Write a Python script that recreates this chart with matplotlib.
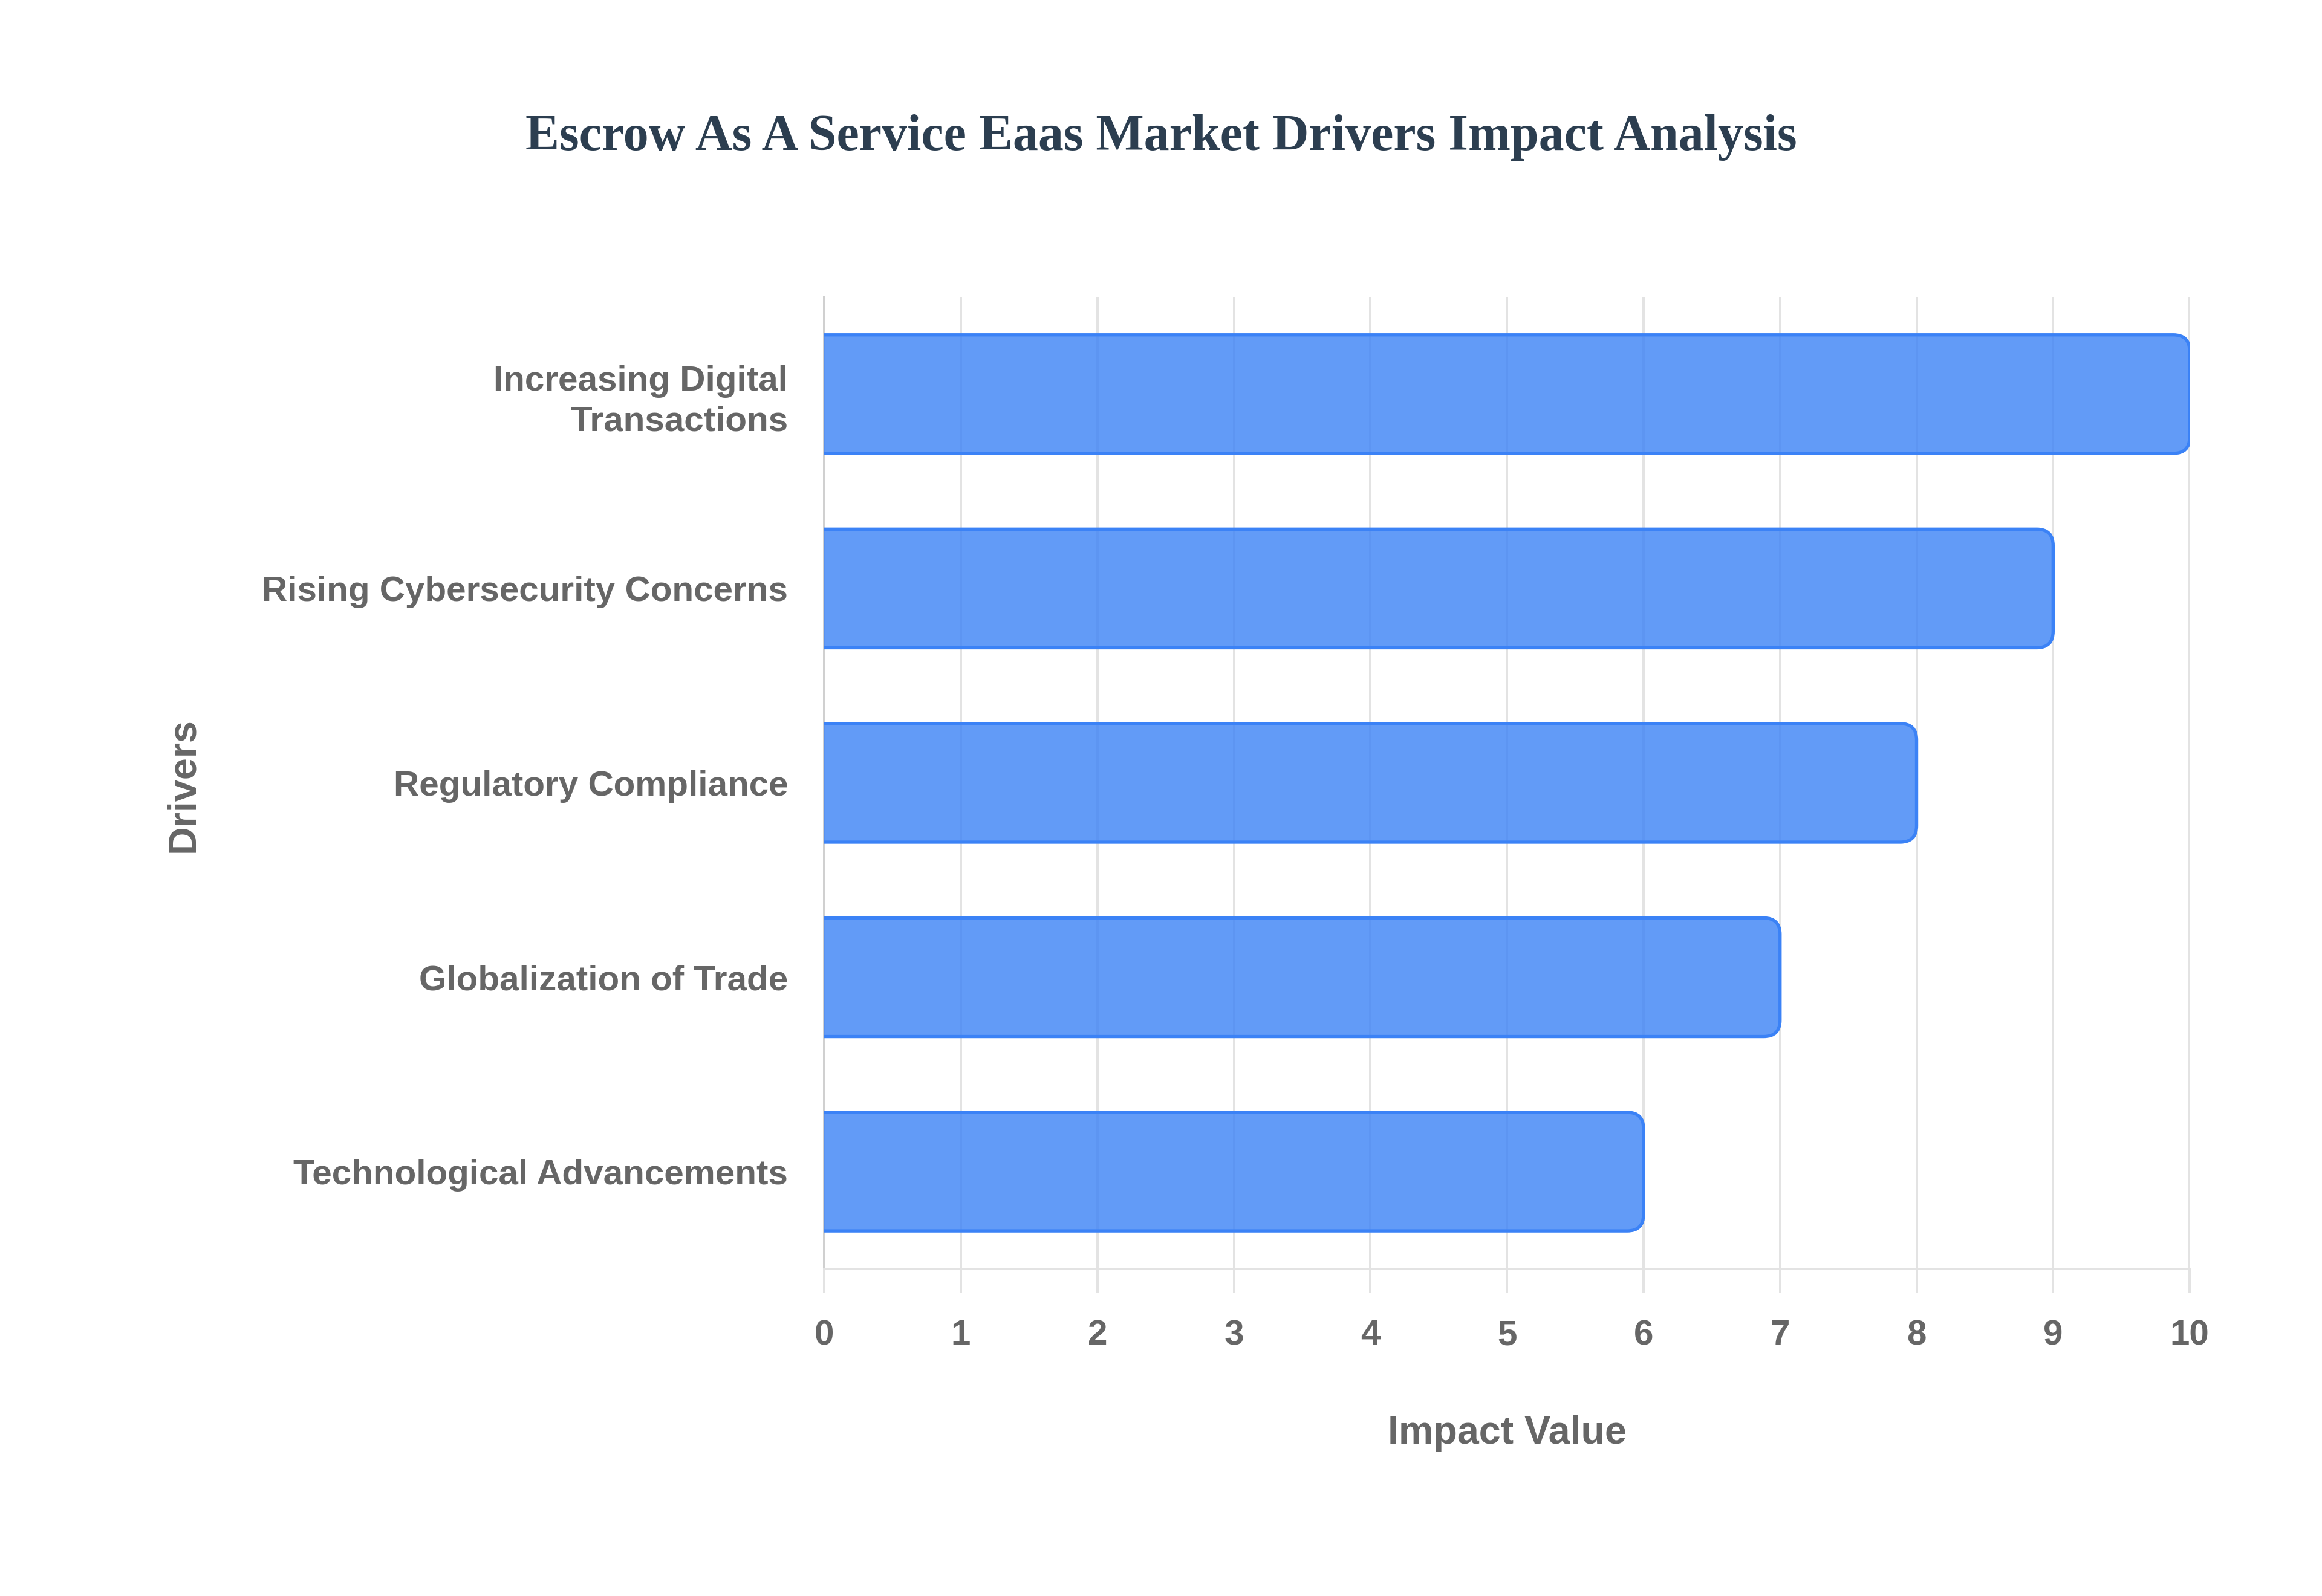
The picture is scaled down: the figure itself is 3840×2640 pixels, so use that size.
import matplotlib
matplotlib.use("Agg")
import matplotlib.pyplot as plt
from matplotlib.patches import FancyBboxPatch

drivers = ["Increasing Digital\nTransactions", "Rising Cybersecurity Concerns",
           "Regulatory Compliance", "Globalization of Trade", "Technological Advancements"]
impact = [10, 9, 8, 7, 6]
xticks = [0, 1, 2, 3, 4, 5, 6, 7, 8, 9, 10]

label_gray = "#666666"
grid_gray = "#e3e3e3"

fig = plt.figure(figsize=(16, 11), dpi=240)
ax = fig.add_axes([0.355, 0.205, 0.588, 0.609])

pos = list(range(len(drivers)))[::-1]
bars = ax.barh(pos, impact, height=0.61, alpha=0)

# swap the plain bars for ones with rounded right ends
r = 0.12
for b in bars:
    x0, y0, w, h = b.get_x(), b.get_y(), b.get_width(), b.get_height()
    p = FancyBboxPatch((x0 - r, y0), w + r, h,
                       boxstyle=f"round,pad=0,rounding_size={r}",
                       mutation_aspect=0.7,
                       facecolor="#3b82f6", alpha=0.8, edgecolor="none", zorder=3)
    ax.add_patch(p)
    p2 = FancyBboxPatch((x0 - r, y0), w + r, h,
                        boxstyle=f"round,pad=0,rounding_size={r}",
                        mutation_aspect=0.7,
                        facecolor="none", edgecolor="#3b82f6", lw=1.6, zorder=4)
    ax.add_patch(p2)

ax.set_xlim(0, 10)
ax.set_ylim(-0.5, len(drivers) - 0.5)
ax.set_xticks(xticks)
ax.set_yticks(pos)
ax.set_yticklabels(drivers)

ax.grid(axis="x", color=grid_gray, lw=1.2, zorder=0)
ax.set_axisbelow(True)
for s in ["top", "right"]:
    ax.spines[s].set_visible(False)
ax.spines["left"].set_color("#d0d0d0")
ax.spines["bottom"].set_color(grid_gray)
ax.spines["left"].set_linewidth(1.2)
ax.spines["bottom"].set_linewidth(1.2)

ax.tick_params(axis="x", length=12, width=1.2, color=grid_gray, pad=13,
               labelsize=17.5, labelcolor=label_gray)
ax.tick_params(axis="y", length=0, pad=18, labelsize=17.5, labelcolor=label_gray)
for t in ax.get_xticklabels() + ax.get_yticklabels():
    t.set_fontfamily("Liberation Sans")
    t.set_fontweight("bold")
for t in ax.get_yticklabels():
    t.set_multialignment("right")
    t.set_linespacing(1.3)

fig.text(0.5, 0.914, "Escrow As A Service Eaas Market Drivers Impact Analysis",
         ha="center", va="center", fontsize=25.2, fontweight="bold",
         family="Liberation Serif", color="#2c3e50")
fig.text(0.649, 0.102, "Impact Value", ha="center", va="center", fontsize=19.4,
         fontweight="bold", family="Liberation Sans", color=label_gray)
fig.text(0.079, 0.508, "Drivers", ha="center", va="center", rotation=90, fontsize=19.4,
         fontweight="bold", family="Liberation Sans", color=label_gray)

fig.savefig("out.png", dpi=240, facecolor="white")
